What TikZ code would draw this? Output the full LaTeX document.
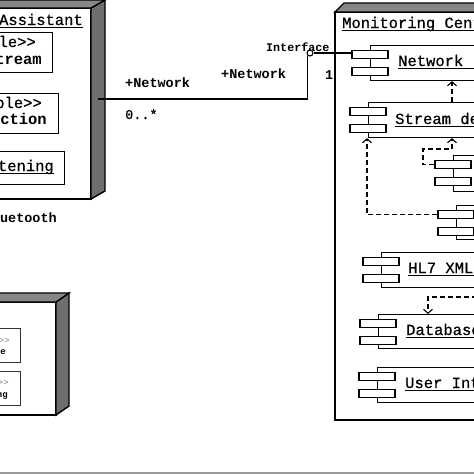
\documentclass[tikz,border=0pt]{standalone}
\usepackage{fontspec}
\setmainfont{Liberation Mono}
\newfontfamily\thickmono{Liberation Mono}[FakeBold=0.7]
\usetikzlibrary{arrows.meta}
\definecolor{sideg}{RGB}{110,110,110}
\definecolor{topg}{RGB}{135,135,135}
\newcommand\mkcomp[4]{%
  \node[mainr, minimum height=#4pt] (#1) at (#2,#3) {};
  \node[lug] (#1-a) at (#2,#3+9.5) {};
  \node[lug] (#1-b) at (#2,#3+26.5) {};
}
\begin{document}
\begin{tikzpicture}[x=1pt,y=-1pt,
  face/.style={draw=black, line width=1.4pt, line join=miter},
  big/.style={inner sep=0pt, font=\fontsize{15.5}{18}\selectfont\thickmono},
  bigb/.style={inner sep=0pt, font=\fontsize{15.5}{18}\selectfont\bfseries},
  mid/.style={inner sep=0pt, font=\fontsize{13.5}{16}\selectfont\bfseries},
  small/.style={inner sep=0pt, font=\fontsize{11.7}{14}\selectfont\bfseries},
  tiny/.style={inner sep=0pt, font=\fontsize{9}{10}\selectfont},
  ulin/.style={line width=0.9pt},
  box/.style={draw, line width=1.2pt, fill=white, inner sep=0pt, anchor=north east},
  mainr/.style={draw, line width=1.1pt, inner sep=0pt, minimum width=130pt, anchor=north west},
  lug/.style={draw, line width=1.4pt, fill=white, inner sep=0pt, minimum width=36pt, minimum height=8.5pt},
  dep/.style={line width=1.3pt, dash pattern=on 5pt off 3pt, -{Straight Barb[length=4pt,width=9pt,line width=1.1pt]}},
  conn/.style={line width=1.3pt}
]
\useasboundingbox (0,0) rectangle (474,474);
\clip (0,0) rectangle (474,474);
\fill[white] (0,0) rectangle (474,474);

% ---------- Personal assistant node ----------
\filldraw[face, fill=white] (-20,8) rectangle (91,199);
\filldraw[face, fill=sideg] (91,8) -- (105,0) -- (105,191) -- (91,199) -- cycle;
\filldraw[face, fill=topg] (-20,8) -- (-6,0) -- (105,0) -- (91,8) -- cycle;
\node[box, minimum width=80pt, minimum height=40pt] (b1) at (53,32) {};
\node[box, minimum width=80pt, minimum height=40pt] (b2) at (59,93) {};
\node[box, minimum width=80pt, minimum height=33pt] (b3) at (65,151) {};
\node[big, anchor=base east] (pat) at (83,25) {Personal Assistant};
\draw[ulin] ([yshift=-2pt]pat.base west) -- ([yshift=-2pt]pat.base east);
\node[big, anchor=base east] (t1a) at (36,47) {<{}<executable>{}>};
\node[bigb, anchor=base east] (t1b) at (42,64) {Stream};
\node[big, anchor=base east] (t2a) at (42,108) {<{}<executable>{}>};
\node[bigb, anchor=base east] (t2b) at (47,124) {Connection};
\node[big, anchor=base east] (t3) at (54,171) {Listening};
\draw[ulin] ([yshift=-2pt]t3.base west) -- ([yshift=-2pt]t3.base east);
\node[mid, anchor=base east] (bt) at (57,222) {Bluetooth};

% ---------- bottom-left node ----------
\filldraw[face, fill=white] (-20,302) rectangle (56,415);
\filldraw[face, fill=sideg] (56,302) -- (69,293) -- (69,406) -- (56,415) -- cycle;
\filldraw[face, fill=topg] (-20,302) -- (-7,293) -- (69,293) -- (56,302) -- cycle;
\node[box, draw=black!80, line width=1pt, minimum width=60pt, minimum height=34pt] (ba) at (21,328) {};
\node[box, draw=black!80, line width=1pt, minimum width=60pt, minimum height=34pt] (bb) at (21,371) {};
\node[tiny, text=gray, anchor=base east] (tba) at (10,343) {<{}<executable>{}>};
\node[tiny, font=\fontsize{9}{10}\selectfont\bfseries, anchor=base east] (tbb) at (6,354) {Storage};
\node[tiny, text=gray, anchor=base east] (tbc) at (9,385) {<{}<executable>{}>};
\node[tiny, font=\fontsize{9}{10}\selectfont\bfseries, anchor=base east] (tbd) at (8,397) {Sensing};

% ---------- Monitoring center node ----------
\filldraw[face, fill=white] (335,12) rectangle (500,420);
\filldraw[face, fill=topg] (335,12) -- (344,3) -- (510,3) -- (500,12) -- cycle;
\node[big, anchor=base west] (mct) at (342,28) {Monitoring Center};
\draw[ulin] ([yshift=-2pt]mct.base west) -- ([yshift=-2pt]mct.base east);

\mkcomp{net}{370}{45}{35}
\mkcomp{stream}{368}{102}{35}
\mkcomp{c3}{453}{155}{36}
\mkcomp{c4}{456}{205}{34}
\mkcomp{hl7}{381}{252}{35}
\mkcomp{db}{378}{314}{34}
\mkcomp{ui}{377}{367}{35}

\node[big, anchor=base west] (netl) at (398,66) {Network Interface};
\draw[ulin] ([yshift=-2pt]netl.base west) -- ([yshift=-2pt]netl.base east);
\node[big, anchor=base west] (strl) at (395,124) {Stream decoder};
\draw[ulin] ([yshift=-2pt]strl.base west) -- ([yshift=-2pt]strl.base east);
\node[big, anchor=base west] (hl7l) at (408,273) {HL7 XML Converter};
\draw[ulin] ([yshift=-2pt]hl7l.base west) -- ([yshift=-2pt]hl7l.base east);
\node[big, anchor=base west] (dbl) at (406,335) {Database};
\draw[ulin] ([yshift=-2pt]dbl.base west) -- ([yshift=-2pt]dbl.base east);
\node[big, anchor=base west] (uil) at (405,388) {User Interface};
\draw[ulin] ([yshift=-2pt]uil.base west) -- ([yshift=-2pt]uil.base east);

% ---------- dependencies ----------
\coordinate (ax) at (452,0);
\coordinate (bx) at (423,149);
\coordinate (cx) at (367,0);
\coordinate (dx) at (428,0);
\coordinate (dsrc) at (485,297);
\draw[dep] (stream.north -| ax) -- (net.south -| ax);
\draw[dep] (c3-a.west) -| (bx) -| (stream.south -| ax);
\draw[dep] (c4-a.west) -| (stream.south -| cx);
\draw[dep] (dsrc) -| (db.north -| dx);

% ---------- network connection ----------
\coordinate (paport) at (98,99);
\node[circle, draw, line width=1.1pt, fill=white, minimum size=6pt, inner sep=0pt] (iface) at (310,53) {};
\draw[conn] (paport) -| (iface.south west);
\draw[conn] (iface.east) -- (iface.east -| net-a.west);
\node[mid, anchor=base west] (lnet) at (125,87) {+Network};
\node[mid, anchor=base west] (rnet) at (221,78) {+Network};
\node[small, anchor=base west] (ifl) at (266,51) {Interface};
\node[mid, anchor=base west] (one) at (325,79) {1};
\node[inner sep=0pt, font=\fontsize{13.5}{16}\selectfont\thickmono, anchor=base west] (mult) at (125,119) {0..*};

% bottom grey strip
\fill[black!40] (0,472) rectangle (474,474);
\end{tikzpicture}
\end{document}
